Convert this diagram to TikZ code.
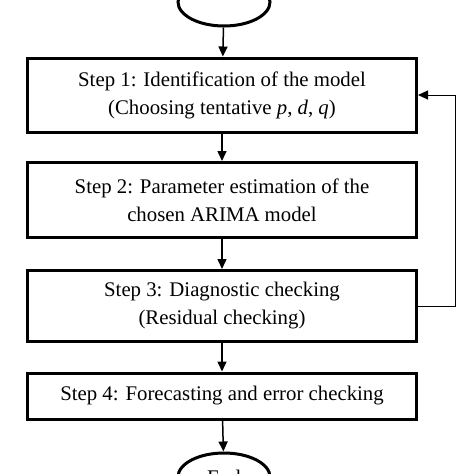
\documentclass[tikz,border=0pt]{standalone}
\usepackage{fontspec}
\setmainfont{Liberation Serif}
\usetikzlibrary{shapes.geometric,arrows.meta}
\begin{document}
\begin{tikzpicture}[x=1pt,y=-1pt,
  stepbox/.style={draw, line width=3pt, rectangle, minimum width=389pt, align=center, font=\fontsize{20.8}{28}\selectfont},
  term/.style={draw, line width=3pt, ellipse, minimum width=92pt, minimum height=48pt, font=\fontsize{20.8}{24}\selectfont},
  flow/.style={-{Triangle[length=10pt,width=9pt]}, line width=1.5pt}]
\useasboundingbox (0,0) rectangle (474,474);
\clip (0,0) rectangle (474,474);
\node[term] (start) at (224,2) {};
\node[stepbox, minimum height=74pt] (s1) at (222,95) {Step 1: Identification of the model\\(Choosing tentative \textit{p}, \textit{d}, \textit{q})};
\node[stepbox, minimum height=75pt] (s2) at (222,200) {Step 2: Parameter estimation of the\\chosen ARIMA model};
\node[stepbox, minimum height=71pt] (s3) at (222,306) {Step 3: Diagnostic checking\\(Residual checking)};
\node[stepbox, minimum height=46pt] (s4) at (222,396) {Step 4: Forecasting and error checking};
\node[term] (end) at (224,477) {End};
\coordinate (back) at (455,0);

\draw[flow] (start) -- (s1);
\draw[flow] (s1) -- (s2);
\draw[flow] (s2) -- (s3);
\draw[flow] (s3) -- (s4);
\draw[flow] (s4) -- (end);
\draw[flow, line width=1pt] (s3.east) -- (s3.east -| back) |- (s1.east);
\end{tikzpicture}
\end{document}
